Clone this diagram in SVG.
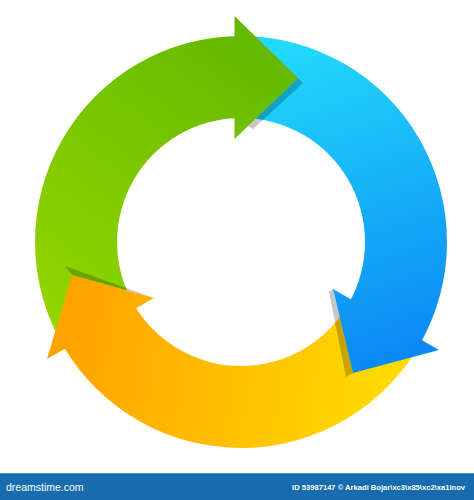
<svg xmlns="http://www.w3.org/2000/svg" width="474" height="500" viewBox="0 0 474 500">
  <style>
    .shadow { fill: #000; fill-opacity: 0.22; }
    .footer { font-family: "Liberation Sans", Arial, sans-serif; fill: #ffffff; }
  </style>
  <defs>
    <linearGradient id="gGreen" gradientUnits="userSpaceOnUse" x1="270" y1="40" x2="60" y2="320">
      <stop offset="0" stop-color="#62b900"/>
      <stop offset="1" stop-color="#92d500"/>
    </linearGradient>
    <linearGradient id="gBlue" gradientUnits="userSpaceOnUse" x1="290" y1="50" x2="400" y2="370">
      <stop offset="0" stop-color="#22d8fb"/>
      <stop offset="1" stop-color="#0a86f4"/>
    </linearGradient>
    <linearGradient id="gYellow" gradientUnits="userSpaceOnUse" x1="400" y1="380" x2="70" y2="330">
      <stop offset="0" stop-color="#ffdc00"/>
      <stop offset="1" stop-color="#ffa300"/>
    </linearGradient>
  </defs>

  <rect x="0" y="0" width="474" height="500" fill="#ffffff"/>

  <g id="shafts">
    <g id="arrow-green">
      <path d="M63.5,346.5 A206,206 0 0 1 241,36 L241,118 A124,124 0 0 0 134.2,304.9 Z" fill="url(#gGreen)"/>
    </g>
    <g id="arrow-blue">
      <path d="M241,36 A206,206 0 0 1 419.4,345 L348.4,304 A124,124 0 0 0 241,118 Z" fill="url(#gBlue)"/>
    </g>
    <g id="arrow-yellow">
      <path d="M421.2,341.9 A206,206 0 0 1 63.5,346.5 L134.2,304.9 A124,124 0 0 0 349.5,302.1 Z" fill="url(#gYellow)"/>
    </g>
  </g>

  <g id="shadows">
    <polygon class="shadow" points="298,78 303,83 253,129 248,126"/>
    <polygon class="shadow" points="333,289 329,292 346,377 353,373"/>
    <polygon class="shadow" points="72,275 65,266 154,298"/>
  </g>

  <g id="heads">
    <polygon id="head-green" points="234.5,16 298,78 234.5,139" fill="url(#gGreen)"/>
    <polygon id="head-blue" points="333,289 439,350 353,373" fill="url(#gBlue)"/>
    <polygon id="head-orange" points="47,359 72,275 154,298" fill="url(#gYellow)"/>
  </g>

  <g id="footer">
    <rect x="0" y="473" width="474" height="27" fill="#166cae"/>
    <rect x="0" y="473" width="474" height="1" fill="#4f93c9"/>
    <text class="footer" x="6" y="491" font-size="10.5">dreamstime.com</text>
    <text class="footer" x="465" y="490" font-size="7.6" font-weight="bold" text-anchor="end">ID 53987147 © Arkadi Bojar\xc3\x85\xc2\xa1inov</text>
  </g>
</svg>
